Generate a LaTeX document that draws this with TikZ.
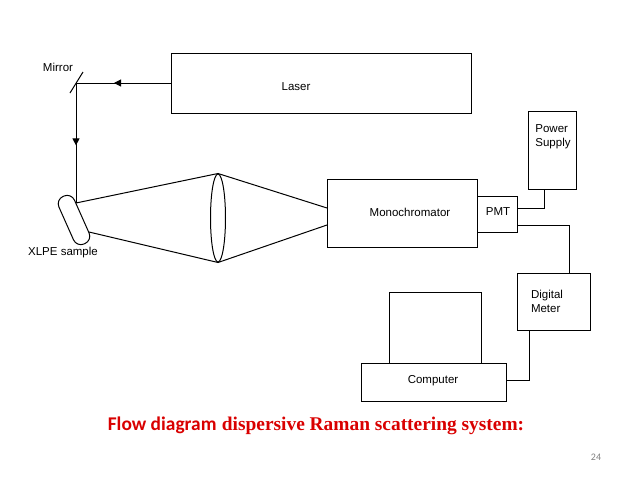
\documentclass[tikz,border=0pt]{standalone}
\usepackage{fontspec}
\setmainfont{Liberation Sans}
\newfontfamily\carl{Carlito}
\newfontfamily\tms{Liberation Serif}
\usetikzlibrary{arrows.meta,decorations.markings,shapes.geometric}
\begin{document}
\begin{tikzpicture}[x=1pt,y=-1pt,line width=1pt,
  bx/.style={draw,inner sep=0pt,anchor=north west},
  ln/.style={},
  lb/.style={font=\fontsize{11.5}{14}\selectfont},
  mid/.style={postaction={decorate},decoration={markings,mark=at position #1 with {\arrow{Triangle[length=7pt,width=7pt]}}}}]
\useasboundingbox (0,0) rectangle (638,479);
\node[bx,minimum width=300pt,minimum height=60pt] (laser) at (171,53) {};
\node[lb] at (296,87) {Laser};
\coordinate (mir) at (76,83);
\coordinate (hit) at (76,203);
\draw[ln,mid=0.6] (laser.west |- mir) -- (mir);
\draw[ln,mid=0.52] (mir) -- (hit);
\draw (70,93) -- (83,72);
\node[lb] at (58,67) {Mirror};
\node[draw,rounded corners=8pt,minimum width=52pt,minimum height=17pt,rotate=-66] (sample) at (74,220) {};
\node[lb] at (63,253) {XLPE sample};
\node[draw,ellipse,minimum width=15pt,minimum height=88pt,inner sep=0pt] (lens) at (218,218) {};
\node[bx,minimum width=150pt,minimum height=68pt] (mono) at (327,179) {};
\node[lb] at (410,212) {Monochromator};
\draw (hit) -- (lens.north) -- (327,208);
\draw (89,232) -- (lens.south) -- (327,225);
\node[bx,minimum width=40pt,minimum height=36pt] (pmt) at (477,196) {};
\node[lb] at (498,212) {PMT};
\node[bx,minimum width=48pt,minimum height=78pt] (ps) at (528,111) {};
\node[lb,align=left] at (553,137) {Power\\Supply};
\node[bx,minimum width=73pt,minimum height=57pt] (dm) at (517,273) {};
\node[lb,align=left] at (547,301) {Digital\\Meter};
\node[bx,minimum width=92pt,minimum height=71pt] (mon) at (389,292) {};
\node[bx,minimum width=145pt,minimum height=38pt] (comp) at (361,363) {};
\node[lb] at (433,381) {Computer};
\draw (pmt.east |- 0,208) -- (544,208) -- (544,189);
\draw (pmt.east |- 0,225) -- (569,225) -- (dm.north -| 569,0);
\draw (529,330) -- (529,380) -- (comp.east |- 0,380);
\node[text=red!85!black,font=\bfseries\fontsize{19.4}{22}\selectfont] at (316,426) {{\carl Flow diagram} {\tms dispersive Raman scattering system:}};
\node[text=gray,font=\carl\fontsize{10}{12}\selectfont] at (596,457) {24};
\end{tikzpicture}
\end{document}
